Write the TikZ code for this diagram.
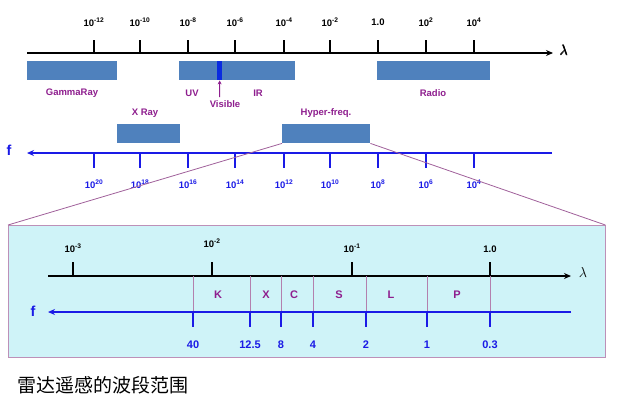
\documentclass[tikz,border=0pt]{standalone}
\usepackage{amsmath,amssymb}
\usepackage{fontspec}
\setmainfont{Liberation Sans}
\newfontfamily\cjk{Noto Sans CJK SC}
\usetikzlibrary{arrows.meta}
\definecolor{barblue}{HTML}{4F81BD}
\definecolor{vis}{HTML}{0A2BE0}
\definecolor{purp}{HTML}{8E1E8E}
\definecolor{fblue}{HTML}{1A1AE6}
\definecolor{boxcyan}{HTML}{CFF3F8}
\definecolor{linepurp}{HTML}{A0609A}
\newcommand{\tp}[1]{10\textsuperscript{#1}}
\tikzset{
 bar/.style={fill=barblue,draw=none},
 lab/.style={font=\bfseries\fontsize{9.5}{11}\selectfont,inner sep=1pt},
 plab/.style={lab,text=purp},
 blab/.style={lab,text=fblue},
 axis/.style={line width=1.8pt,-{Stealth[length=7pt,width=6pt]}},
 faxis/.style={axis,draw=fblue},
 tick/.style={line width=1.2pt},
 ftick/.style={line width=1.2pt,draw=fblue},
}
\begin{document}
\begin{tikzpicture}[x=1pt,y=-1pt]
\useasboundingbox (0,0) rectangle (624,408);
% zoom box
\node[draw=linepurp!70,fill=boxcyan,minimum width=597pt,minimum height=132pt,anchor=north west,inner sep=0pt] (box) at (8,225) {};
% top lambda axis
\coordinate (la0) at (27,53); \coordinate (la1) at (553,53);
\draw[axis] (la0) -- (la1);
\node[font=\Large] (lam) at (564,50) {$\pmb{\lambda}$};
\foreach \x/\t [count=\i] in {94/\tp{-12},140/\tp{-10},188/\tp{-8},235/\tp{-6},284/\tp{-4},330/\tp{-2},378/1.0,426/\tp{2},474/\tp{4}}{
  \draw[tick] (\x,40) coordinate (tt\i) -- (\x,53);
  \node[lab] (tl\i) at (\x,22) {\t};
}
% bars
\node[bar,minimum width=90pt,minimum height=19pt,anchor=north west,inner sep=0pt] (gamma) at (27,61) {};
\node[bar,minimum width=116pt,minimum height=19pt,anchor=north west,inner sep=0pt] (uvir) at (179,61) {};
\node[fill=vis,minimum width=5pt,minimum height=19pt,anchor=north west,inner sep=0pt] (visb) at (217,61) {};
\node[bar,minimum width=113pt,minimum height=19pt,anchor=north west,inner sep=0pt] (radio) at (377,61) {};
\node[bar,minimum width=63pt,minimum height=19pt,anchor=north west,inner sep=0pt] (xray) at (117,124) {};
\node[bar,minimum width=88pt,minimum height=19pt,anchor=north west,inner sep=0pt] (hyper) at (282,124) {};
\node[plab] (lg) at (72,93) {GammaRay};
\node[plab] (luv) at (192,93) {UV};
\node[plab] (lir) at (258,93) {IR};
\node[plab] (lvis) at (225,104) {Visible};
\coordinate (visarr) at (219.5,97);
\draw[purp,line width=1pt,-{Stealth[length=4pt,width=4pt]}] (visarr) -- (visb.south);
\node[plab] (lrad) at (433,93) {Radio};
\node[plab] (lx) at (145,113) {X Ray};
\node[plab] (lh) at (326,113) {Hyper-freq.};
% f axis
\coordinate (fa0) at (552,153); \coordinate (fa1) at (27,153);
\draw[faxis] (fa0) -- (fa1);
\node[blab,font=\bfseries\Large,text=fblue] (fl) at (9,150) {f};
\foreach \x/\t [count=\i] in {94/\tp{20},140/\tp{18},188/\tp{16},235/\tp{14},284/\tp{12},330/\tp{10},378/\tp{8},426/\tp{6},474/\tp{4}}{
  \draw[ftick] (\x,153) -- (\x,168) coordinate (ft\i);
  \node[blab] (fl\i) at (\x,184) {\t};
}
% zoom lines
\draw[linepurp,thick] (hyper.south west) -- (box.north west);
\draw[linepurp,thick] (hyper.south east) -- (box.north east);
% inner lambda
\coordinate (ia0) at (48,276); \coordinate (ia1) at (571,276);
\draw[axis] (ia0) -- (ia1);
\node[font=\Large] (ilam) at (583,272) {$\lambda$};
\foreach \x/\y/\t [count=\i] in {73/248/\tp{-3},212/243/\tp{-2},352/248/\tp{-1},490/249/1.0}{
  \draw[tick] (\x,262) -- (\x,276);
  \node[lab] (il\i) at (\x,\y) {\t};
}
% inner f
\coordinate (if0) at (571,312); \coordinate (if1) at (48,312);
\foreach \x/\t [count=\i] in {193/40,250/12.5,281/8,313/4,366/2,427/1,490/0.3}{
  \draw[linepurp!80,thin] (\x,276) -- (\x,312);
  \draw[ftick] (\x,312) -- (\x,327);
  \node[blab,font=\bfseries\fontsize{11}{13}\selectfont] (in\i) at (\x,345) {\t};
}
\draw[faxis] (if0) -- (if1);
\node[blab,font=\bfseries\Large,text=fblue] (ifl) at (33,311) {f};
\foreach \x/\t [count=\i] in {218/K,266/X,294/C,339/S,391/L,457/P}{
  \node[plab,font=\bfseries\fontsize{11}{13}\selectfont] (b\i) at (\x,295) {\t};
}
% caption
\node[anchor=west,font=\cjk\fontsize{19}{22}\selectfont,inner sep=0pt] (cap) at (17,385) {雷达遥感的波段范围};
\end{tikzpicture}
\end{document}
